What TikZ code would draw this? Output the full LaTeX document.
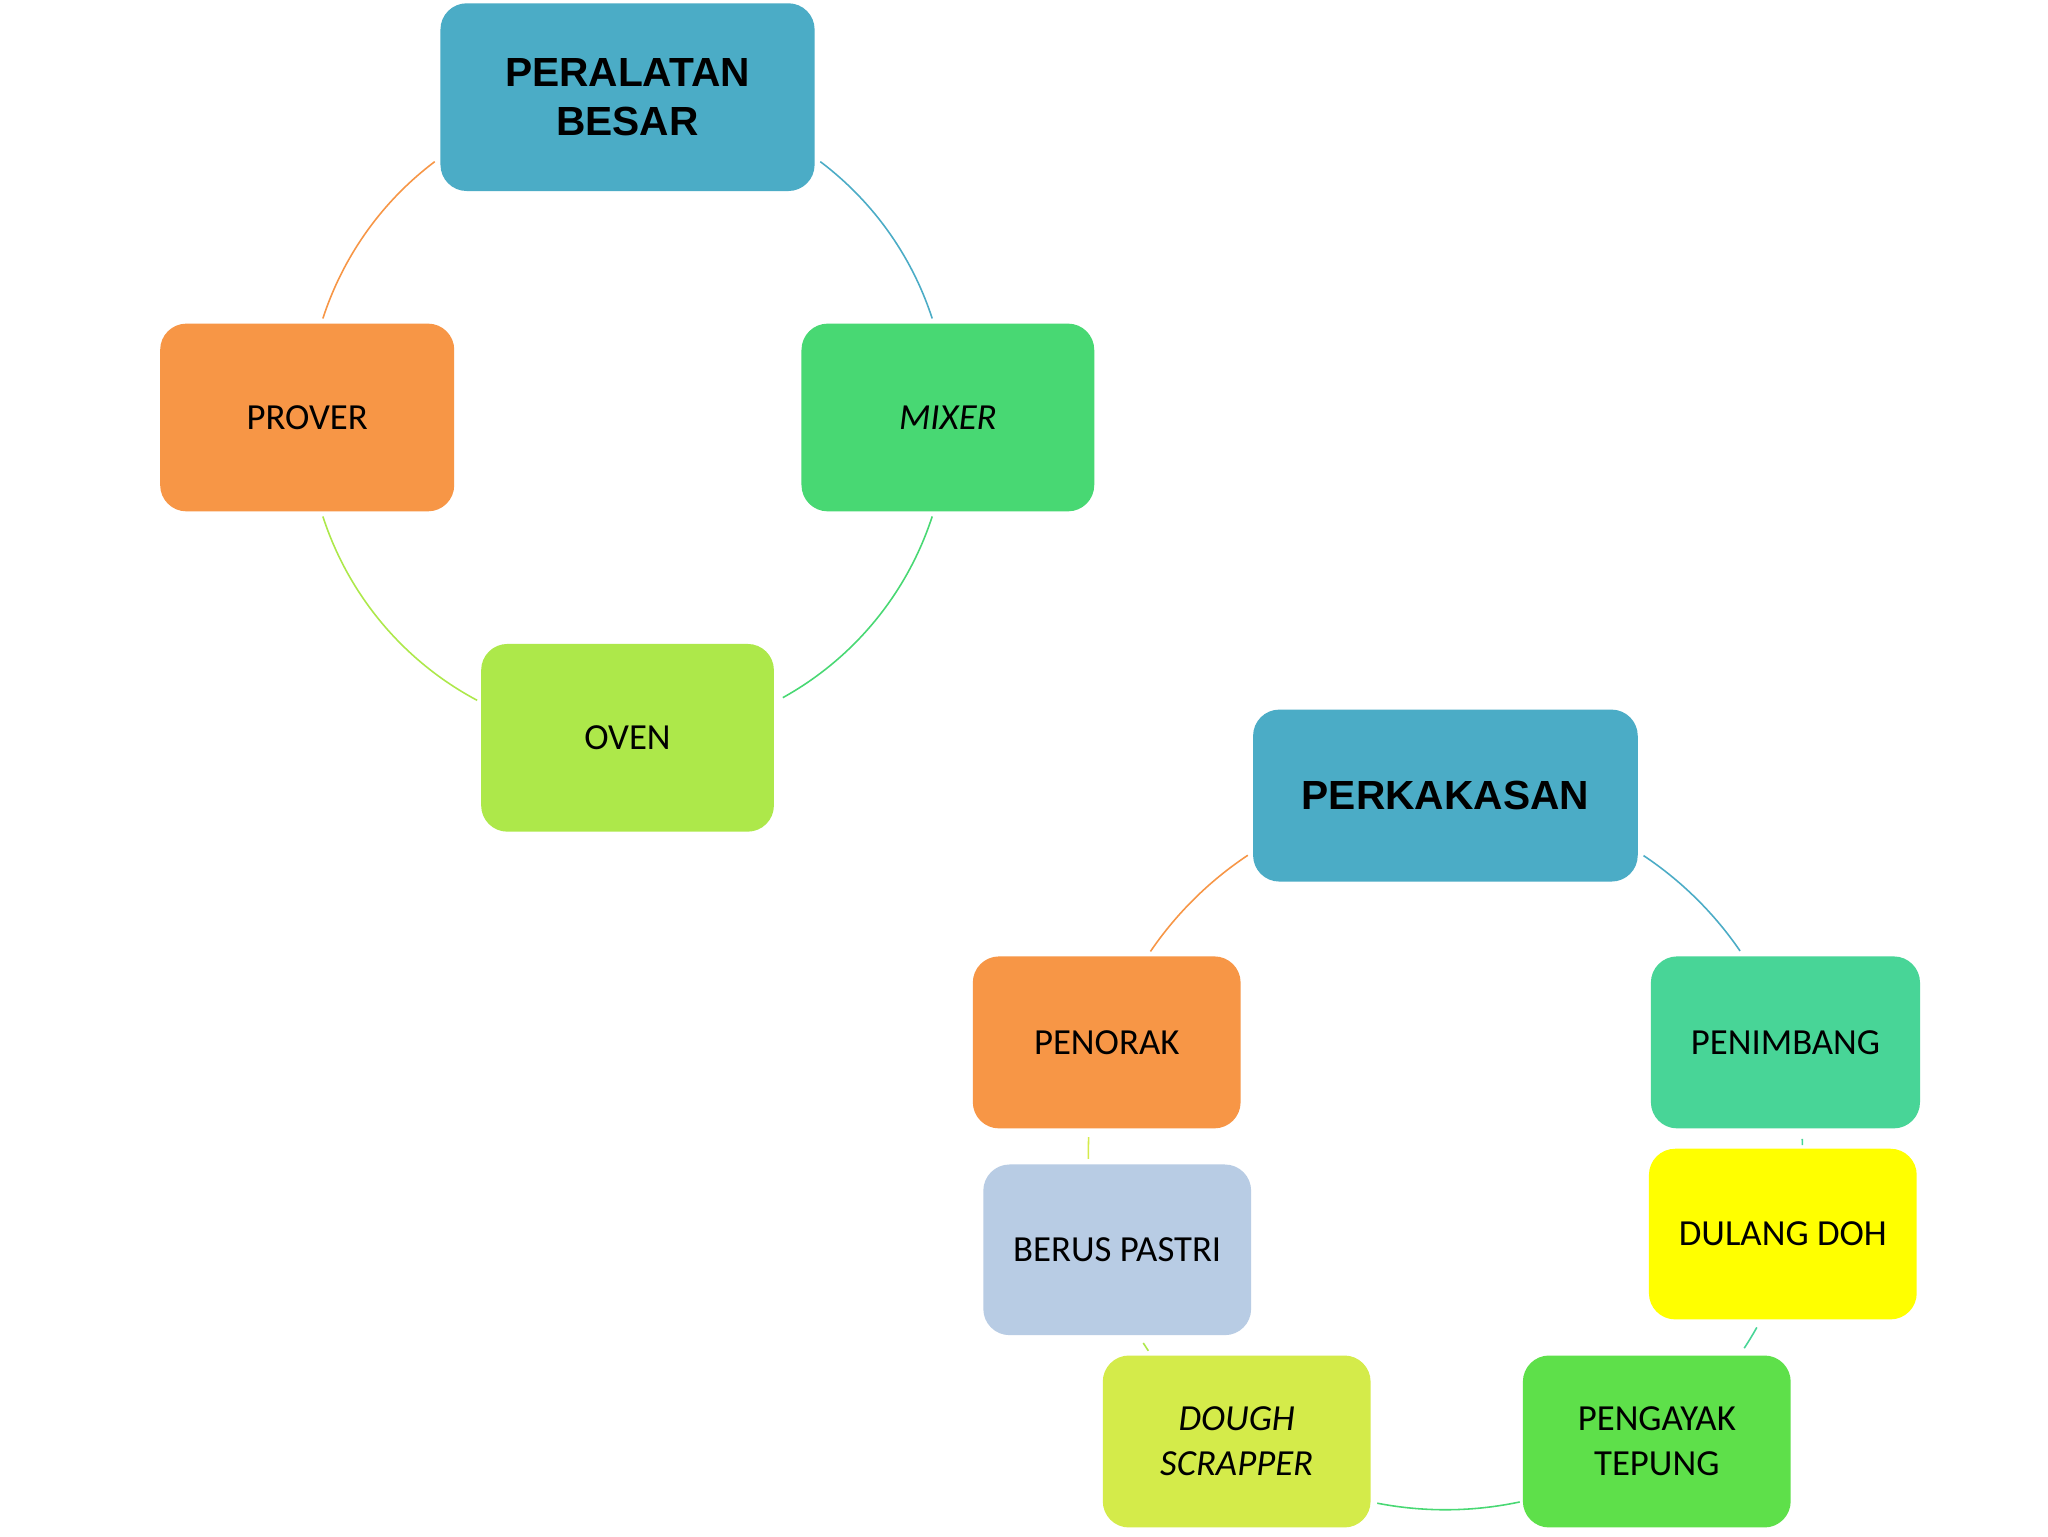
\documentclass[tikz,border=0pt]{standalone}
\usepackage{fontspec}
\setmainfont{Carlito}
\newfontfamily\titlefont{Liberation Sans}
\definecolor{cblue}{HTML}{4BACC6}
\definecolor{corange}{HTML}{F79646}
\definecolor{cgreen}{HTML}{48D873}
\definecolor{clime}{HTML}{ADE84A}
\definecolor{cteal}{HTML}{48D597}
\definecolor{cberus}{HTML}{B8CCE4}
\definecolor{cyel}{HTML}{FFFF00}
\definecolor{cscr}{HTML}{D4EB4A}
\definecolor{cpeng}{HTML}{5EE04A}
\begin{document}
\begin{tikzpicture}[x=1pt,y=-1pt,
  box/.style={rounded corners=20pt,inner sep=0pt,align=center,font=\fontsize{28}{34}\selectfont,text=black},
  ttl/.style={box,font=\titlefont\bfseries\fontsize{31}{38}\selectfont},
  arcln/.style={line width=1.2pt}]
\useasboundingbox (0,0) rectangle (1560,1170);
\fill[white] (0,0) rectangle (1560,1170);
% left circle arcs
\coordinate (c1) at (478,318);
\draw[arcln,corange] (c1) ++(-127:244) arc[start angle=-127,end angle=-162,radius=244];
\draw[arcln,cblue] (c1) ++(-53:244) arc[start angle=-53,end angle=-18,radius=244];
\draw[arcln,cgreen] (c1) ++(18:244) arc[start angle=18,end angle=61,radius=244];
\draw[arcln,clime] (c1) ++(118:244) arc[start angle=118,end angle=162,radius=244];
% right circle arcs
\coordinate (c2) at (1101,878);
\draw[arcln,corange] (c2) ++(-123.6:272) arc[start angle=-123.6,end angle=-145.7,radius=272];
\draw[arcln,cblue] (c2) ++(-56.3:272) arc[start angle=-56.3,end angle=-34.4,radius=272];
\draw[arcln,cteal] (c2) ++(-2.2:272) arc[start angle=-2.2,end angle=-1.2,radius=272];
\draw[arcln,cteal] (c2) ++(29.3:272) arc[start angle=29.3,end angle=33.2,radius=272];
\draw[arcln,cgreen] (c2) ++(78:272) arc[start angle=78,end angle=101,radius=272];
\draw[arcln,clime] (c2) ++(146.3:272) arc[start angle=146.3,end angle=147.8,radius=272];
\draw[arcln,cscr] (c2) ++(179:272) arc[start angle=179,end angle=182.5,radius=272];
% nodes
\node[ttl,fill=cblue,minimum width=285,minimum height=143] (pb) at (478,74) {PERALATAN\\BESAR};
\node[box,fill=corange,minimum width=224,minimum height=143] (prover) at (234,318) {PROVER};
\node[box,fill=cgreen,minimum width=223,minimum height=143] (mixer) at (722,318) {\itshape MIXER};
\node[box,fill=clime,minimum width=223,minimum height=143] (oven) at (478,562) {OVEN};
\node[ttl,fill=cblue,minimum width=293,minimum height=131] (pk) at (1101,606) {PERKAKASAN};
\node[box,fill=corange,minimum width=204,minimum height=131] (penorak) at (843,794) {PENORAK};
\node[box,fill=cteal,minimum width=205,minimum height=131] (penimbang) at (1360,794) {PENIMBANG};
\node[box,fill=cberus,minimum width=204,minimum height=130] (berus) at (851,952) {BERUS PASTRI};
\node[box,fill=cyel,minimum width=204,minimum height=130] (dulang) at (1358,940) {DULANG DOH};
\node[box,fill=cscr,minimum width=204,minimum height=131] (scr) at (942,1098) {\itshape DOUGH\\\itshape SCRAPPER};
\node[box,fill=cpeng,minimum width=204,minimum height=131] (peng) at (1262,1098) {PENGAYAK\\TEPUNG};
\end{tikzpicture}
\end{document}
